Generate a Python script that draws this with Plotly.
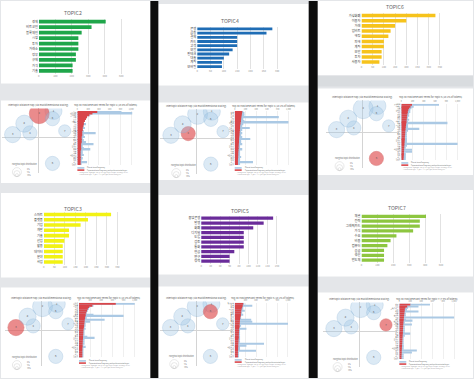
import plotly.graph_objects as go

W, H = 474, 379

# ---------------- data: topic bar charts ----------------
topic_names = ["TOPIC2", "TOPIC4", "TOPIC6", "TOPIC3", "TOPIC5", "TOPIC7"]
topic_colors = ["#1fa64a", "#1f6db5", "#f6c31c", "#f2f214", "#6a2c9a", "#8dc640"]

topic2_terms = ["경제", "비트코인", "블록체인", "시장", "투자", "거래소", "정부", "규제", "가격", "기술"]
topic2_freq = [406, 320, 260, 240, 240, 240, 225, 225, 205, 205]
topic2_ticks = [0, 100, 200, 300, 400, 500]

topic4_terms = ["은행", "금융", "결제", "카드", "고객", "보험", "핀테크", "대출", "계좌", "모바일"]
topic4_freq = [282, 260, 150, 150, 150, 133, 120, 100, 93, 93]
topic4_ticks = [0, 50, 100, 150, 200, 250, 300]

topic6_terms = ["가상화폐", "이용자", "거래", "업비트", "해킹", "피해", "계좌", "보안", "투자", "사용자"]
topic6_freq = [330, 200, 150, 130, 120, 100, 100, 90, 90, 80]
topic6_ticks = [0, 50, 100, 150, 200, 250, 300, 350]

topic3_terms = ["스마트", "플랫폼", "기업", "개발", "기술", "산업", "활용", "데이터", "분야", "사업"]
topic3_freq = [320, 210, 175, 120, 120, 98, 90, 90, 90, 90]
topic3_ticks = [0, 50, 100, 150, 200, 250, 300, 350]

topic5_terms = ["중앙은행", "발행", "화폐", "디지털", "도입", "검토", "통화", "현금", "연구", "정책"]
topic5_freq = [152, 132, 110, 90, 90, 90, 90, 70, 60, 60]
topic5_ticks = [0, 20, 40, 60, 80, 100, 120, 140, 160]

topic7_terms = ["채굴", "전력", "그래픽카드", "가격", "수요", "비용", "컴퓨터", "공급", "생산", "반도체"]
topic7_freq = [406, 367, 367, 325, 220, 183, 163, 142, 142, 142]
topic7_ticks = [0, 100, 200, 300, 400, 500]

# ---------------- data: LDAvis intertopic map ----------------
topic_ids = [1, 2, 3, 4, 5, 6, 7, 8]
topic_pc1 = [0.150, 0.007, -0.260, -0.087, 0.140, 0.140, 0.263, -0.143]
topic_pc2 = [0.267, 0.240, 0.030, 0.047, 0.190, -0.260, 0.067, 0.140]
topic_share = [14.6, 19.8, 13.2, 10.1, 10.1, 10.1, 7.5, 14.6]

# ---------------- data: LDAvis relevant-term bars ----------------
lda_tick_text = ["0", "200", "400", "600", "800", "1,000"]
lda_extra_terms = ["정보", "시스템", "사람", "국내", "세계", "미국", "중국", "일본", "회사", "관계자",
                   "문제", "가능", "기존", "사용", "네트워크", "운영", "제공", "계획", "최근", "전문가",
                   "분석", "전망"]

lda2_total = [4.1, 5.1, 1.2, 0.9, 0.8, 0.7, 0.6, 0.8, 0.6, 0.7, 0.5, 0.6, 1.7, 0.6, 0.7,
              0.5, 0.6, 0.8, 1.5, 0.5, 0.6, 1.2, 0.5, 0.5, 0.6, 0.4, 0.5, 0.4, 0.9, 0.4]
lda2_topic = [1.85, 1.4, 1.1, 0.9, 0.8, 0.7, 0.6, 0.6, 0.55, 0.5, 0.5, 0.45, 0.45, 0.45, 0.4,
              0.4, 0.4, 0.4, 0.35, 0.35, 0.35, 0.35, 0.3, 0.3, 0.3, 0.3, 0.3, 0.3, 0.3, 0.3]
lda4_total = [0.8, 0.9, 0.9, 4.1, 0.8, 0.9, 5.0, 0.8, 0.7, 1.4, 0.7, 0.6, 0.7, 0.6, 0.7,
              1.45, 0.6, 0.6, 0.7, 0.5, 0.5, 0.7, 0.5, 0.5, 0.5, 0.6, 0.5, 0.5, 1.7, 0.5]
lda4_topic = [0.7, 0.68, 0.65, 0.62, 0.6, 0.58, 0.55, 0.53, 0.5, 0.5, 0.48, 0.46, 0.45, 0.44, 0.42,
              0.41, 0.4, 0.4, 0.38, 0.37, 0.36, 0.35, 0.34, 0.33, 0.33, 0.32, 0.31, 0.3, 0.3, 0.3]
lda6_total = [3.35, 1.1, 0.9, 0.8, 0.8, 0.7, 0.7, 0.6, 0.7, 0.6, 4.1, 0.6, 0.6, 1.6, 0.6,
              0.5, 0.5, 0.5, 0.5, 0.5, 0.5, 5.0, 0.5, 0.4, 0.95, 0.95, 0.4, 0.4, 0.4, 0.4]
lda6_topic = [0.95, 0.82, 0.7, 0.62, 0.58, 0.55, 0.52, 0.5, 0.48, 0.46, 0.44, 0.42, 0.4, 0.38, 0.36,
              0.35, 0.34, 0.32, 0.31, 0.3, 0.29, 0.28, 0.27, 0.26, 0.25, 0.24, 0.23, 0.22, 0.21, 0.2]
lda3_total = [5.0, 1.3, 1.0, 0.9, 0.8, 0.7, 1.3, 4.0, 0.7, 2.3, 1.0, 0.6, 0.6, 0.5, 0.6,
              0.5, 0.5, 0.5, 0.75, 1.4, 0.5, 0.5, 0.5, 0.4, 0.6, 0.4, 0.4, 0.4, 0.4, 0.4]
lda3_topic = [3.3, 1.2, 0.9, 0.8, 0.72, 0.65, 0.6, 0.58, 0.55, 0.52, 0.5, 0.48, 0.46, 0.44, 0.42,
              0.4, 0.39, 0.38, 0.37, 0.36, 0.35, 0.34, 0.33, 0.32, 0.31, 0.3, 0.3, 0.3, 0.3, 0.3]
lda5_total = [0.9, 1.65, 0.8, 0.8, 0.95, 0.7, 0.8, 0.6, 0.6, 1.55, 1.65, 5.0, 0.6, 0.5, 1.1,
              0.5, 0.5, 0.5, 0.5, 0.5, 0.5, 0.5, 2.75, 1.1, 0.5, 0.5, 2.0, 0.4, 0.4, 0.4]
lda5_topic = [0.8, 0.75, 0.7, 0.66, 0.62, 0.6, 0.58, 0.55, 0.52, 0.5, 0.48, 0.47, 0.45, 0.44, 0.42,
              0.41, 0.4, 0.39, 0.38, 0.37, 0.36, 0.35, 0.34, 0.33, 0.32, 0.32, 0.31, 0.3, 0.3, 0.3]
lda7_total = [2.8, 1.75, 0.8, 0.7, 1.75, 0.6, 0.6, 5.0, 0.6, 1.2, 0.5, 1.15, 0.5, 0.5, 0.5,
              0.5, 1.0, 0.5, 0.4, 0.4, 0.4, 0.4, 0.4, 0.4, 0.4, 1.6, 1.15, 0.4, 0.4, 0.4]
lda7_topic = [1.0, 0.72, 0.55, 0.5, 0.48, 0.46, 0.44, 0.42, 0.4, 0.38, 0.37, 0.36, 0.35, 0.34, 0.33,
              0.32, 0.31, 0.3, 0.29, 0.28, 0.27, 0.26, 0.25, 0.24, 0.23, 0.22, 0.22, 0.21, 0.2, 0.2]
lda_token_pct = ["19.8%", "10.1%", "10.1%", "13.2%", "10.1%", "7.5%"]

# ---------------- helpers ----------------
FONT = "Noto Sans CJK KR, Noto Sans, Arial"


def X(p):
    return p / W


def Y(p):
    return 1 - p / H


layout = dict(width=W, height=H, margin=dict(l=0, r=0, t=0, b=0),
              paper_bgcolor="#e4e6e9", plot_bgcolor="rgba(0,0,0,0)",
              showlegend=False, barmode="overlay", font=dict(family=FONT))
shapes, annotations, traces = [], [], []


def axes(n, x0, x1, y0, y1, xkw, ykw):
    xs = "" if n == 1 else str(n)
    layout["xaxis" + xs] = dict(domain=[X(x0), X(x1)], anchor="y" + xs, **xkw)
    layout["yaxis" + xs] = dict(domain=[Y(y1), Y(y0)], anchor="x" + xs, **ykw)
    return "x" + xs, "y" + xs


def rect(x0, y0, x1, y1, color, layer="below", line=None):
    shapes.append(dict(type="rect", xref="paper", yref="paper", x0=X(x0), x1=X(x1),
                       y0=Y(y1), y1=Y(y0), fillcolor=color, layer=layer,
                       line=dict(width=0) if line is None else line))


def text(x, y, s, size, color="#444", xanchor="center"):
    annotations.append(dict(x=X(x), y=Y(y), xref="paper", yref="paper", text=s,
                            showarrow=False, xanchor=xanchor, yanchor="middle",
                            font=dict(size=size, color=color, family=FONT)))


# ---------------- cards & separators ----------------
cols = [(0, 150), (158, 309), (318, 474)]
cards = [
    [(0, 83), (100, 183), (193, 278), (288, 379)],
    [(3, 85), (102, 180), (195, 275), (287, 379)],
    [(0, 75), (88, 175), (190, 277), (293, 379)],
]
for (cx0, cx1), cl in zip(cols, cards):
    for (cy0, cy1) in cl:
        rect(cx0, cy0, cx1, cy1, "white")
rect(318, 75, 474, 86, "#d9dcdf")
rect(150, 0, 158, 379, "#0d0d0d", layer="above")
rect(309, 0, 318, 379, "#0d0d0d", layer="above")

# ---------------- topic bar charts ----------------
bar_specs = [
    (topic2_terms, topic2_freq, topic2_ticks, 38, 124, 18, 73, 72, 12),
    (topic4_terms, topic4_freq, topic4_ticks, 197, 280, 26, 68, 230, 20),
    (topic6_terms, topic6_freq, topic6_ticks, 362, 443, 12, 64, 396, 6),
    (topic3_terms, topic3_freq, topic3_ticks, 43, 119, 212, 265, 72, 209),
    (topic5_terms, topic5_freq, topic5_ticks, 201, 279, 216, 264, 240, 211),
    (topic7_terms, topic7_freq, topic7_ticks, 362, 445, 214, 263, 398, 208),
]
for i, (terms, vals, ticks, x0, x1, y0, y1, tx, ty) in enumerate(bar_specs):
    n = i + 1
    step = ticks[1] - ticks[0]
    xa, ya = axes(n, x0, x1, y0, y1,
                  dict(range=[0, ticks[-1] + step * 0.2], tickvals=ticks,
                       ticktext=[str(t) for t in ticks], showgrid=True,
                       gridcolor="#e2e2e2", gridwidth=0.6, zeroline=False,
                       tickfont=dict(size=2.6, color="#999"), ticklen=0, showline=False),
                  dict(type="category", autorange="reversed", tickmode="array",
                       tickvals=terms, ticktext=terms, showgrid=False, zeroline=False,
                       tickfont=dict(size=3.2, color="#444"), ticklen=0))
    traces.append(go.Bar(x=vals, y=terms, orientation="h", xaxis=xa, yaxis=ya,
                         marker=dict(color=topic_colors[i], line=dict(width=0)), width=0.68))
    text(tx, ty, topic_names[i], 5.2, "#666")

# ---------------- LDAvis panels ----------------
panels = [
    dict(sel=2, terms=topic2_terms, total=lda2_total, topic=lda2_topic, cx=37.7, cy=137.3,
         bx=76.7, bstep=10.8, by0=110.7, by1=165, ty=105, btx=105, ly=167, mx=9, my=164),
    dict(sel=4, terms=topic4_terms, total=lda4_total, topic=lda4_topic, cx=196.7, cy=138,
         bx=234.7, bstep=10.8, by0=110.7, by1=165, ty=106, btx=264, ly=167, mx=169, my=165),
    dict(sel=6, terms=topic6_terms, total=lda6_total, topic=lda6_topic, cx=363, cy=132.3,
         bx=402, bstep=11.3, by0=103.3, by1=160, ty=97, btx=431, ly=162, mx=333, my=158),
    dict(sel=3, terms=topic3_terms, total=lda3_total, topic=lda3_topic, cx=41, cy=331.3,
         bx=78.3, bstep=11.2, by0=303.3, by1=358.3, ty=299, btx=108, ly=361, mx=9, my=358),
    dict(sel=5, terms=topic5_terms, total=lda5_total, topic=lda5_topic, cx=196.3, cy=331.3,
         bx=234.7, bstep=10.7, by0=303.3, by1=358.3, ty=299, btx=263, ly=360, mx=167, my=357),
    dict(sel=7, terms=topic7_terms, total=lda7_total, topic=lda7_topic, cx=360.3, cy=332.3,
         bx=400, bstep=11.0, by0=304, by1=360, ty=300, btx=428, ly=362, mx=331, my=360),
]

for k, p in enumerate(panels):
    # --- intertopic distance map ---
    n = 7 + k
    cx, cy = p["cx"], p["cy"]
    colx0 = cols[k % 3][0] + 1
    sx0, sx1 = max(colx0, cx - 37), cx + 37
    sy0, sy1 = p["ty"] + 3, cy + 36
    xa, ya = axes(n, sx0, sx1, sy0, sy1,
                  dict(range=[(sx0 - cx) / 100, (sx1 - cx) / 100], showgrid=False,
                       zeroline=True, zerolinecolor="#d4d4d4", zerolinewidth=0.6,
                       showticklabels=False, ticks=""),
                  dict(range=[(cy - sy1) / 100, (cy - sy0) / 100], showgrid=False,
                       zeroline=True, zerolinecolor="#d4d4d4", zerolinewidth=0.6,
                       showticklabels=False, ticks=""))
    fills = ["rgba(224,82,83,0.95)" if t == p["sel"] else "rgba(158,198,230,0.5)" for t in topic_ids]
    lines = ["#c94041" if t == p["sel"] else "rgba(120,165,205,0.7)" for t in topic_ids]
    traces.append(go.Scatter(x=topic_pc1, y=topic_pc2, mode="markers+text", xaxis=xa, yaxis=ya,
                             text=[str(t) for t in topic_ids], textposition="middle center",
                             textfont=dict(size=2.6, color="#555"),
                             marker=dict(size=topic_share, sizemode="area", sizeref=0.1,
                                         color=fills, line=dict(color=lines, width=0.5))))
    text(cx, p["ty"], "Intertopic Distance Map (via multidimensional scaling)", 2.4, "#555")

    # marginal topic distribution legend
    mx, my = p["mx"], p["my"]
    text(mx, my, "Marginal topic distribution", 2.0, "#666", xanchor="left")
    for r, lab, dy in [(1.5, "2%", 5), (3.0, "5%", 8), (4.5, "10%", 11)]:
        shapes.append(dict(type="circle", xref="paper", yref="paper",
                           x0=X(mx + 7 - r), x1=X(mx + 7 + r), y0=Y(my + 12.5), y1=Y(my + 12.5 - 2 * r),
                           line=dict(color="#c8c8c8", width=0.4), fillcolor="rgba(0,0,0,0)"))
        text(mx + 15, my + dy, lab, 1.8, "#666", xanchor="left")

    # --- top-30 relevant terms ---
    n2 = 13 + k
    terms30 = p["terms"] + [w for w in lda_extra_terms if w not in p["terms"]][:20]
    bx1 = p["bx"] + 5.2 * p["bstep"]
    xa, ya = axes(n2, p["bx"], bx1, p["by0"], p["by1"],
                  dict(range=[0, 5.2], side="top", tickvals=[0, 1, 2, 3, 4, 5],
                       ticktext=lda_tick_text, showgrid=True, gridcolor="#efefef",
                       gridwidth=0.5, zeroline=False, tickfont=dict(size=2.0, color="#888"),
                       ticklen=0, showline=False),
                  dict(type="category", autorange="reversed", tickmode="array",
                       tickvals=terms30, ticktext=terms30, showgrid=False, zeroline=False,
                       tickfont=dict(size=1.7, color="#555"), ticklen=0))
    traces.append(go.Bar(x=p["total"], y=terms30, orientation="h", xaxis=xa, yaxis=ya,
                         marker=dict(color="#abc9e4", line=dict(width=0)), width=0.8))
    traces.append(go.Bar(x=p["topic"], y=terms30, orientation="h", xaxis=xa, yaxis=ya,
                         marker=dict(color="#d9464a", line=dict(width=0)), width=0.8))
    text(p["btx"], p["ty"], "Top-30 Most Relevant Terms for Topic %d (%s of tokens)"
         % (p["sel"], lda_token_pct[k]), 2.4, "#555")

    # legend under bars
    lx, ly = p["bx"], p["ly"]
    rect(lx, ly, lx + 7, ly + 1.6, "#abc9e4", layer="above")
    text(lx + 8, ly + 0.8, "Overall term frequency", 1.7, "#666", xanchor="left")
    rect(lx, ly + 2.2, lx + 7, ly + 3.8, "#d9464a", layer="above")
    text(lx + 8, ly + 3.0, "Estimated term frequency within the selected topic", 1.7, "#666", xanchor="left")
    text(lx, ly + 5.3, "1. saliency(term w) = frequency(w) * [sum_t p(t | w) * log(p(t | w)/p(t))] "
         "for topics t; see Chuang et. al (2012)", 1.0, "#777", xanchor="left")
    text(lx, ly + 7.0, "2. relevance(term w | topic t) = \u03bb * p(w | t) + (1 - \u03bb) * p(w | t)/p(w); "
         "see Sievert & Shirley (2014)", 1.0, "#777", xanchor="left")

layout["shapes"] = shapes
layout["annotations"] = annotations
fig = go.Figure(data=traces, layout=layout)
fig.write_html("out.html", config={"displayModeBar": False},
               post_script="document.body.style.margin='0';document.body.style.overflow='hidden';")
